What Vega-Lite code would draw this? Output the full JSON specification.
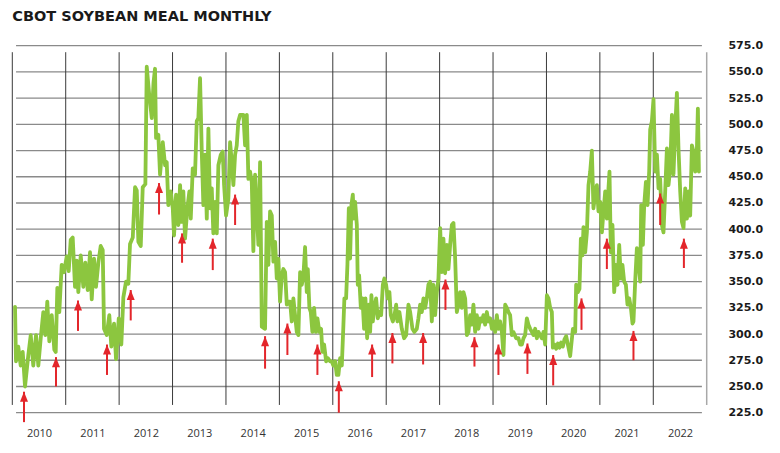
{
  "$schema": "https://vega.github.io/schema/vega-lite/v6.json",
  "width": 694.4,
  "height": 367,
  "autosize": {"type": "none"},
  "padding": {"left": 12.3, "top": 45.7, "right": 73.3, "bottom": 40.3},
  "background": "white",
  "title": {
    "text": "CBOT SOYBEAN MEAL MONTHLY",
    "anchor": "start",
    "frame": "group",
    "font": "DejaVu Sans",
    "fontSize": 14.5,
    "fontWeight": "bold",
    "color": "#1a1a1a",
    "baseline": "alphabetic",
    "offset": 4
  },
  "config": {"view": {"stroke": null}},
  "resolve": {"axis": {"x": "independent", "y": "independent"}},
  "datasets": {
    "levels": [
      {"level": 225}, {"level": 250}, {"level": 275}, {"level": 300}, {"level": 325},
      {"level": 350}, {"level": 375}, {"level": 400}, {"level": 425}, {"level": 450},
      {"level": 475}, {"level": 500}, {"level": 525}, {"level": 550}, {"level": 575}
    ],
    "years": [
      {"t": 2010}, {"t": 2011}, {"t": 2012}, {"t": 2013}, {"t": 2014}, {"t": 2015}, {"t": 2016},
      {"t": 2017}, {"t": 2018}, {"t": 2019}, {"t": 2020}, {"t": 2021}, {"t": 2022}, {"t": 2023}
    ],
    "price": [
      {"t": 2010.051, "v": 326}, {"t": 2010.069, "v": 274}, {"t": 2010.112, "v": 288}, {"t": 2010.157, "v": 270},
      {"t": 2010.195, "v": 283}, {"t": 2010.238, "v": 250}, {"t": 2010.300, "v": 280}, {"t": 2010.345, "v": 299},
      {"t": 2010.393, "v": 270}, {"t": 2010.444, "v": 299}, {"t": 2010.487, "v": 270}, {"t": 2010.532, "v": 296},
      {"t": 2010.581, "v": 321}, {"t": 2010.618, "v": 299}, {"t": 2010.655, "v": 331}, {"t": 2010.693, "v": 293},
      {"t": 2010.738, "v": 318}, {"t": 2010.787, "v": 285}, {"t": 2010.813, "v": 283}, {"t": 2010.843, "v": 344},
      {"t": 2010.880, "v": 321}, {"t": 2010.925, "v": 366}, {"t": 2010.968, "v": 359}, {"t": 2011.019, "v": 374},
      {"t": 2011.056, "v": 360}, {"t": 2011.094, "v": 390}, {"t": 2011.131, "v": 392}, {"t": 2011.174, "v": 345},
      {"t": 2011.206, "v": 370}, {"t": 2011.236, "v": 340}, {"t": 2011.281, "v": 375}, {"t": 2011.330, "v": 345},
      {"t": 2011.367, "v": 368}, {"t": 2011.412, "v": 342}, {"t": 2011.455, "v": 378}, {"t": 2011.487, "v": 333},
      {"t": 2011.530, "v": 372}, {"t": 2011.567, "v": 345}, {"t": 2011.611, "v": 368}, {"t": 2011.655, "v": 384},
      {"t": 2011.693, "v": 380}, {"t": 2011.717, "v": 305}, {"t": 2011.768, "v": 299}, {"t": 2011.816, "v": 318},
      {"t": 2011.854, "v": 288}, {"t": 2011.905, "v": 310}, {"t": 2011.942, "v": 276}, {"t": 2011.993, "v": 315},
      {"t": 2012.041, "v": 290}, {"t": 2012.079, "v": 335}, {"t": 2012.129, "v": 350}, {"t": 2012.172, "v": 348},
      {"t": 2012.204, "v": 386}, {"t": 2012.255, "v": 392}, {"t": 2012.298, "v": 440}, {"t": 2012.330, "v": 437},
      {"t": 2012.360, "v": 388}, {"t": 2012.405, "v": 384}, {"t": 2012.442, "v": 440}, {"t": 2012.491, "v": 443},
      {"t": 2012.517, "v": 555}, {"t": 2012.560, "v": 530}, {"t": 2012.611, "v": 506}, {"t": 2012.644, "v": 540},
      {"t": 2012.672, "v": 553}, {"t": 2012.691, "v": 487}, {"t": 2012.734, "v": 490}, {"t": 2012.766, "v": 452},
      {"t": 2012.817, "v": 483}, {"t": 2012.860, "v": 461}, {"t": 2012.891, "v": 464}, {"t": 2012.921, "v": 423},
      {"t": 2012.966, "v": 436}, {"t": 2013.004, "v": 420}, {"t": 2013.028, "v": 394}, {"t": 2013.066, "v": 433},
      {"t": 2013.109, "v": 404}, {"t": 2013.141, "v": 442}, {"t": 2013.172, "v": 407}, {"t": 2013.202, "v": 436},
      {"t": 2013.234, "v": 391}, {"t": 2013.277, "v": 420}, {"t": 2013.315, "v": 436}, {"t": 2013.341, "v": 410},
      {"t": 2013.378, "v": 458}, {"t": 2013.421, "v": 452}, {"t": 2013.453, "v": 503}, {"t": 2013.483, "v": 506},
      {"t": 2013.515, "v": 544}, {"t": 2013.547, "v": 474}, {"t": 2013.577, "v": 423}, {"t": 2013.609, "v": 471},
      {"t": 2013.641, "v": 410}, {"t": 2013.671, "v": 496}, {"t": 2013.702, "v": 420}, {"t": 2013.734, "v": 439},
      {"t": 2013.764, "v": 396}, {"t": 2013.796, "v": 426}, {"t": 2013.828, "v": 396}, {"t": 2013.858, "v": 461},
      {"t": 2013.903, "v": 471}, {"t": 2013.940, "v": 474}, {"t": 2013.965, "v": 442}, {"t": 2014.002, "v": 413},
      {"t": 2014.045, "v": 429}, {"t": 2014.077, "v": 483}, {"t": 2014.109, "v": 464}, {"t": 2014.139, "v": 442},
      {"t": 2014.171, "v": 471}, {"t": 2014.202, "v": 480}, {"t": 2014.232, "v": 503}, {"t": 2014.264, "v": 509},
      {"t": 2014.326, "v": 509}, {"t": 2014.358, "v": 480}, {"t": 2014.390, "v": 509}, {"t": 2014.420, "v": 448},
      {"t": 2014.451, "v": 455}, {"t": 2014.483, "v": 445}, {"t": 2014.513, "v": 379}, {"t": 2014.545, "v": 452},
      {"t": 2014.577, "v": 417}, {"t": 2014.607, "v": 385}, {"t": 2014.639, "v": 464}, {"t": 2014.671, "v": 307},
      {"t": 2014.732, "v": 305}, {"t": 2014.764, "v": 407}, {"t": 2014.794, "v": 366}, {"t": 2014.826, "v": 417},
      {"t": 2014.858, "v": 413}, {"t": 2014.888, "v": 369}, {"t": 2014.920, "v": 388}, {"t": 2014.951, "v": 353},
      {"t": 2014.981, "v": 372}, {"t": 2015.013, "v": 331}, {"t": 2015.045, "v": 356}, {"t": 2015.075, "v": 362},
      {"t": 2015.107, "v": 359}, {"t": 2015.139, "v": 328}, {"t": 2015.169, "v": 331}, {"t": 2015.201, "v": 331},
      {"t": 2015.232, "v": 312}, {"t": 2015.262, "v": 334}, {"t": 2015.294, "v": 318}, {"t": 2015.326, "v": 302},
      {"t": 2015.356, "v": 299}, {"t": 2015.388, "v": 359}, {"t": 2015.420, "v": 347}, {"t": 2015.450, "v": 356},
      {"t": 2015.481, "v": 383}, {"t": 2015.513, "v": 340}, {"t": 2015.532, "v": 362}, {"t": 2015.562, "v": 325},
      {"t": 2015.588, "v": 321}, {"t": 2015.618, "v": 302}, {"t": 2015.650, "v": 325}, {"t": 2015.682, "v": 302},
      {"t": 2015.712, "v": 315}, {"t": 2015.749, "v": 302}, {"t": 2015.781, "v": 305}, {"t": 2015.805, "v": 283},
      {"t": 2015.837, "v": 290}, {"t": 2015.875, "v": 274}, {"t": 2015.907, "v": 277}, {"t": 2015.950, "v": 274},
      {"t": 2015.981, "v": 274}, {"t": 2016.011, "v": 270}, {"t": 2016.043, "v": 274}, {"t": 2016.075, "v": 261},
      {"t": 2016.105, "v": 261}, {"t": 2016.137, "v": 277}, {"t": 2016.169, "v": 270}, {"t": 2016.199, "v": 309},
      {"t": 2016.217, "v": 334}, {"t": 2016.249, "v": 334}, {"t": 2016.274, "v": 366}, {"t": 2016.300, "v": 420},
      {"t": 2016.324, "v": 372}, {"t": 2016.349, "v": 423}, {"t": 2016.375, "v": 433}, {"t": 2016.393, "v": 410},
      {"t": 2016.418, "v": 426}, {"t": 2016.450, "v": 404}, {"t": 2016.468, "v": 347}, {"t": 2016.493, "v": 356},
      {"t": 2016.525, "v": 325}, {"t": 2016.555, "v": 334}, {"t": 2016.586, "v": 305}, {"t": 2016.611, "v": 334},
      {"t": 2016.643, "v": 296}, {"t": 2016.674, "v": 328}, {"t": 2016.699, "v": 302}, {"t": 2016.723, "v": 337},
      {"t": 2016.749, "v": 312}, {"t": 2016.779, "v": 325}, {"t": 2016.811, "v": 334}, {"t": 2016.843, "v": 315},
      {"t": 2016.873, "v": 321}, {"t": 2016.905, "v": 318}, {"t": 2016.937, "v": 347}, {"t": 2016.966, "v": 353},
      {"t": 2016.998, "v": 347}, {"t": 2017.030, "v": 334}, {"t": 2017.060, "v": 340}, {"t": 2017.086, "v": 318},
      {"t": 2017.124, "v": 312}, {"t": 2017.154, "v": 318}, {"t": 2017.186, "v": 328}, {"t": 2017.210, "v": 312},
      {"t": 2017.247, "v": 321}, {"t": 2017.292, "v": 305}, {"t": 2017.335, "v": 296}, {"t": 2017.373, "v": 299},
      {"t": 2017.416, "v": 328}, {"t": 2017.448, "v": 321}, {"t": 2017.491, "v": 305}, {"t": 2017.528, "v": 302},
      {"t": 2017.573, "v": 305}, {"t": 2017.603, "v": 315}, {"t": 2017.635, "v": 328}, {"t": 2017.667, "v": 321},
      {"t": 2017.697, "v": 334}, {"t": 2017.729, "v": 325}, {"t": 2017.760, "v": 334}, {"t": 2017.790, "v": 347},
      {"t": 2017.822, "v": 350}, {"t": 2017.854, "v": 312}, {"t": 2017.884, "v": 347}, {"t": 2017.916, "v": 318},
      {"t": 2017.948, "v": 340}, {"t": 2017.978, "v": 353}, {"t": 2018.010, "v": 401}, {"t": 2018.041, "v": 359},
      {"t": 2018.071, "v": 391}, {"t": 2018.103, "v": 358}, {"t": 2018.135, "v": 385}, {"t": 2018.165, "v": 362},
      {"t": 2018.197, "v": 385}, {"t": 2018.229, "v": 404}, {"t": 2018.259, "v": 406}, {"t": 2018.291, "v": 372},
      {"t": 2018.322, "v": 321}, {"t": 2018.352, "v": 328}, {"t": 2018.384, "v": 340}, {"t": 2018.416, "v": 325},
      {"t": 2018.446, "v": 340}, {"t": 2018.478, "v": 334}, {"t": 2018.510, "v": 299}, {"t": 2018.540, "v": 302},
      {"t": 2018.571, "v": 318}, {"t": 2018.603, "v": 309}, {"t": 2018.633, "v": 328}, {"t": 2018.665, "v": 302},
      {"t": 2018.697, "v": 318}, {"t": 2018.727, "v": 305}, {"t": 2018.759, "v": 315}, {"t": 2018.791, "v": 312},
      {"t": 2018.820, "v": 318}, {"t": 2018.852, "v": 309}, {"t": 2018.884, "v": 321}, {"t": 2018.914, "v": 312},
      {"t": 2018.946, "v": 315}, {"t": 2018.978, "v": 305}, {"t": 2019.008, "v": 312}, {"t": 2019.040, "v": 302},
      {"t": 2019.071, "v": 318}, {"t": 2019.101, "v": 305}, {"t": 2019.133, "v": 312}, {"t": 2019.165, "v": 302},
      {"t": 2019.195, "v": 280}, {"t": 2019.227, "v": 328}, {"t": 2019.259, "v": 325}, {"t": 2019.289, "v": 321},
      {"t": 2019.320, "v": 318}, {"t": 2019.352, "v": 299}, {"t": 2019.382, "v": 302}, {"t": 2019.433, "v": 296},
      {"t": 2019.476, "v": 296}, {"t": 2019.508, "v": 290}, {"t": 2019.540, "v": 290}, {"t": 2019.570, "v": 296},
      {"t": 2019.601, "v": 299}, {"t": 2019.633, "v": 315}, {"t": 2019.663, "v": 309}, {"t": 2019.695, "v": 305},
      {"t": 2019.727, "v": 302}, {"t": 2019.757, "v": 299}, {"t": 2019.789, "v": 305}, {"t": 2019.820, "v": 296},
      {"t": 2019.850, "v": 302}, {"t": 2019.882, "v": 299}, {"t": 2019.914, "v": 296}, {"t": 2019.944, "v": 302},
      {"t": 2019.976, "v": 290}, {"t": 2020.008, "v": 337}, {"t": 2020.038, "v": 334}, {"t": 2020.070, "v": 325},
      {"t": 2020.101, "v": 321}, {"t": 2020.120, "v": 287}, {"t": 2020.150, "v": 290}, {"t": 2020.182, "v": 286},
      {"t": 2020.214, "v": 291}, {"t": 2020.244, "v": 287}, {"t": 2020.276, "v": 292}, {"t": 2020.307, "v": 288},
      {"t": 2020.337, "v": 295}, {"t": 2020.369, "v": 298}, {"t": 2020.401, "v": 290}, {"t": 2020.444, "v": 279},
      {"t": 2020.495, "v": 305}, {"t": 2020.538, "v": 302}, {"t": 2020.556, "v": 347}, {"t": 2020.588, "v": 340},
      {"t": 2020.618, "v": 343}, {"t": 2020.644, "v": 391}, {"t": 2020.674, "v": 375}, {"t": 2020.693, "v": 402},
      {"t": 2020.725, "v": 378}, {"t": 2020.757, "v": 397}, {"t": 2020.787, "v": 442}, {"t": 2020.819, "v": 455},
      {"t": 2020.850, "v": 475}, {"t": 2020.880, "v": 420}, {"t": 2020.912, "v": 433}, {"t": 2020.944, "v": 442},
      {"t": 2020.974, "v": 417}, {"t": 2021.006, "v": 426}, {"t": 2021.038, "v": 397}, {"t": 2021.068, "v": 417},
      {"t": 2021.100, "v": 436}, {"t": 2021.131, "v": 410}, {"t": 2021.161, "v": 439}, {"t": 2021.180, "v": 455},
      {"t": 2021.206, "v": 378}, {"t": 2021.236, "v": 404}, {"t": 2021.268, "v": 340}, {"t": 2021.300, "v": 366},
      {"t": 2021.330, "v": 347}, {"t": 2021.362, "v": 385}, {"t": 2021.393, "v": 353}, {"t": 2021.423, "v": 366},
      {"t": 2021.455, "v": 350}, {"t": 2021.487, "v": 347}, {"t": 2021.517, "v": 328}, {"t": 2021.549, "v": 334},
      {"t": 2021.581, "v": 325}, {"t": 2021.611, "v": 310}, {"t": 2021.629, "v": 312}, {"t": 2021.661, "v": 350},
      {"t": 2021.693, "v": 382}, {"t": 2021.723, "v": 369}, {"t": 2021.755, "v": 350}, {"t": 2021.774, "v": 423},
      {"t": 2021.805, "v": 385}, {"t": 2021.830, "v": 423}, {"t": 2021.862, "v": 445}, {"t": 2021.892, "v": 423},
      {"t": 2021.923, "v": 455}, {"t": 2021.942, "v": 495}, {"t": 2021.974, "v": 503}, {"t": 2022.004, "v": 524},
      {"t": 2022.036, "v": 455}, {"t": 2022.068, "v": 471}, {"t": 2022.098, "v": 439}, {"t": 2022.129, "v": 448},
      {"t": 2022.161, "v": 404}, {"t": 2022.191, "v": 397}, {"t": 2022.223, "v": 436}, {"t": 2022.255, "v": 477},
      {"t": 2022.285, "v": 442}, {"t": 2022.317, "v": 458}, {"t": 2022.349, "v": 509}, {"t": 2022.378, "v": 452},
      {"t": 2022.410, "v": 496}, {"t": 2022.442, "v": 530}, {"t": 2022.472, "v": 477}, {"t": 2022.504, "v": 436},
      {"t": 2022.536, "v": 407}, {"t": 2022.566, "v": 401}, {"t": 2022.598, "v": 439}, {"t": 2022.629, "v": 410},
      {"t": 2022.659, "v": 436}, {"t": 2022.691, "v": 413}, {"t": 2022.723, "v": 480}, {"t": 2022.753, "v": 474},
      {"t": 2022.785, "v": 455}, {"t": 2022.817, "v": 477}, {"t": 2022.835, "v": 515}, {"t": 2022.854, "v": 455}
    ],
    "arrows": [
      {"t": 2010.219, "tip": 245, "base": 216}, {"t": 2010.818, "tip": 278, "base": 250},
      {"t": 2011.230, "tip": 332, "base": 303}, {"t": 2011.773, "tip": 290, "base": 261},
      {"t": 2012.217, "tip": 342, "base": 313}, {"t": 2012.747, "tip": 444, "base": 414},
      {"t": 2013.178, "tip": 396, "base": 368}, {"t": 2013.753, "tip": 391, "base": 361},
      {"t": 2014.171, "tip": 433, "base": 404}, {"t": 2014.732, "tip": 298, "base": 267},
      {"t": 2015.150, "tip": 310, "base": 280}, {"t": 2015.712, "tip": 290, "base": 261},
      {"t": 2016.113, "tip": 255, "base": 225}, {"t": 2016.736, "tip": 290, "base": 259},
      {"t": 2017.116, "tip": 301, "base": 272}, {"t": 2017.691, "tip": 301, "base": 271},
      {"t": 2018.109, "tip": 352, "base": 323}, {"t": 2018.652, "tip": 297, "base": 269},
      {"t": 2019.101, "tip": 290, "base": 261}, {"t": 2019.644, "tip": 291, "base": 262},
      {"t": 2020.126, "tip": 280, "base": 251}, {"t": 2020.656, "tip": 334, "base": 304},
      {"t": 2021.131, "tip": 391, "base": 362}, {"t": 2021.629, "tip": 303, "base": 275},
      {"t": 2022.129, "tip": 434, "base": 404}, {"t": 2022.573, "tip": 391, "base": 363}
    ]
  },
  "layer": [
    {
      "data": {"name": "levels"},
      "mark": {"type": "rule", "color": "#8a8a8a", "strokeWidth": 1.3},
      "encoding": {
        "y": {"field": "level", "type": "quantitative", "scale": {"domain": [225, 575], "nice": false, "zero": false}, "axis": null},
        "x": {"datum": 2010.07, "type": "quantitative", "scale": {"domain": [2010, 2023], "nice": false, "zero": false}, "axis": null},
        "x2": {"datum": 2022.91}
      }
    },
    {
      "data": {"name": "years"},
      "transform": [{"filter": "datum.t < 2023"}],
      "mark": {"type": "rule", "color": "#3a3a3a", "strokeWidth": 1},
      "encoding": {
        "x": {"field": "t", "type": "quantitative", "scale": {"domain": [2010, 2023], "nice": false, "zero": false}, "axis": null},
        "y": {"datum": 568.8, "type": "quantitative", "scale": {"domain": [225, 575], "nice": false, "zero": false}, "axis": null},
        "y2": {"datum": 232.4}
      }
    },
    {
      "data": {"name": "years"},
      "transform": [{"filter": "datum.t == 2023"}],
      "mark": {"type": "rule", "color": "#a8a8a8", "strokeWidth": 1.5},
      "encoding": {
        "x": {"field": "t", "type": "quantitative", "scale": {"domain": [2010, 2023], "nice": false, "zero": false}, "axis": null},
        "y": {"datum": 568.8, "type": "quantitative", "scale": {"domain": [225, 575], "nice": false, "zero": false}, "axis": null},
        "y2": {"datum": 232.4}
      }
    },
    {
      "data": {"name": "price"},
      "mark": {"type": "line", "color": "#8cc63f", "strokeWidth": 3.8, "strokeJoin": "round", "strokeCap": "round"},
      "encoding": {
        "x": {
          "field": "t", "type": "quantitative",
          "scale": {"domain": [2010, 2023], "nice": false, "zero": false},
          "axis": {
            "title": null, "domain": false, "ticks": false, "grid": false,
            "values": [2010.5, 2011.5, 2012.5, 2013.5, 2014.5, 2015.5, 2016.5, 2017.5, 2018.5, 2019.5, 2020.5, 2021.5, 2022.5],
            "labelExpr": "floor(datum.value)",
            "labelPadding": 15, "labelFont": "Open Sans", "labelFontSize": 11, "labelColor": "#333333",
            "labelFlush": false, "labelOverlap": false
          }
        },
        "y": {
          "field": "v", "type": "quantitative",
          "scale": {"domain": [225, 575], "nice": false, "zero": false},
          "axis": {
            "orient": "right", "title": null, "domain": false, "ticks": false, "grid": false,
            "values": [225, 250, 275, 300, 325, 350, 375, 400, 425, 450, 475, 500, 525, 550, 575],
            "format": ".1f",
            "labelPadding": 56, "labelAlign": "right", "labelBaseline": "middle",
            "labelFont": "DejaVu Sans", "labelFontWeight": "bold", "labelFontSize": 11, "labelColor": "#1a1a1a",
            "labelFlush": false, "labelOverlap": false, "labelSeparation": 0
          }
        }
      }
    },
    {
      "data": {"name": "arrows"},
      "mark": {"type": "rule", "color": "#e3262b", "strokeWidth": 2},
      "encoding": {
        "x": {"field": "t", "type": "quantitative", "scale": {"domain": [2010, 2023], "nice": false, "zero": false}, "axis": null},
        "y": {"field": "base", "type": "quantitative", "scale": {"domain": [225, 575], "nice": false, "zero": false}, "axis": null},
        "y2": {"field": "tip"}
      }
    },
    {
      "data": {"name": "arrows"},
      "mark": {"type": "point", "shape": "M0,0L0.8,2L-0.8,2Z", "size": 100, "filled": true, "color": "#e3262b", "opacity": 1, "strokeWidth": 0},
      "encoding": {
        "x": {"field": "t", "type": "quantitative", "scale": {"domain": [2010, 2023], "nice": false, "zero": false}, "axis": null},
        "y": {"field": "tip", "type": "quantitative", "scale": {"domain": [225, 575], "nice": false, "zero": false}, "axis": null}
      }
    }
  ]
}
